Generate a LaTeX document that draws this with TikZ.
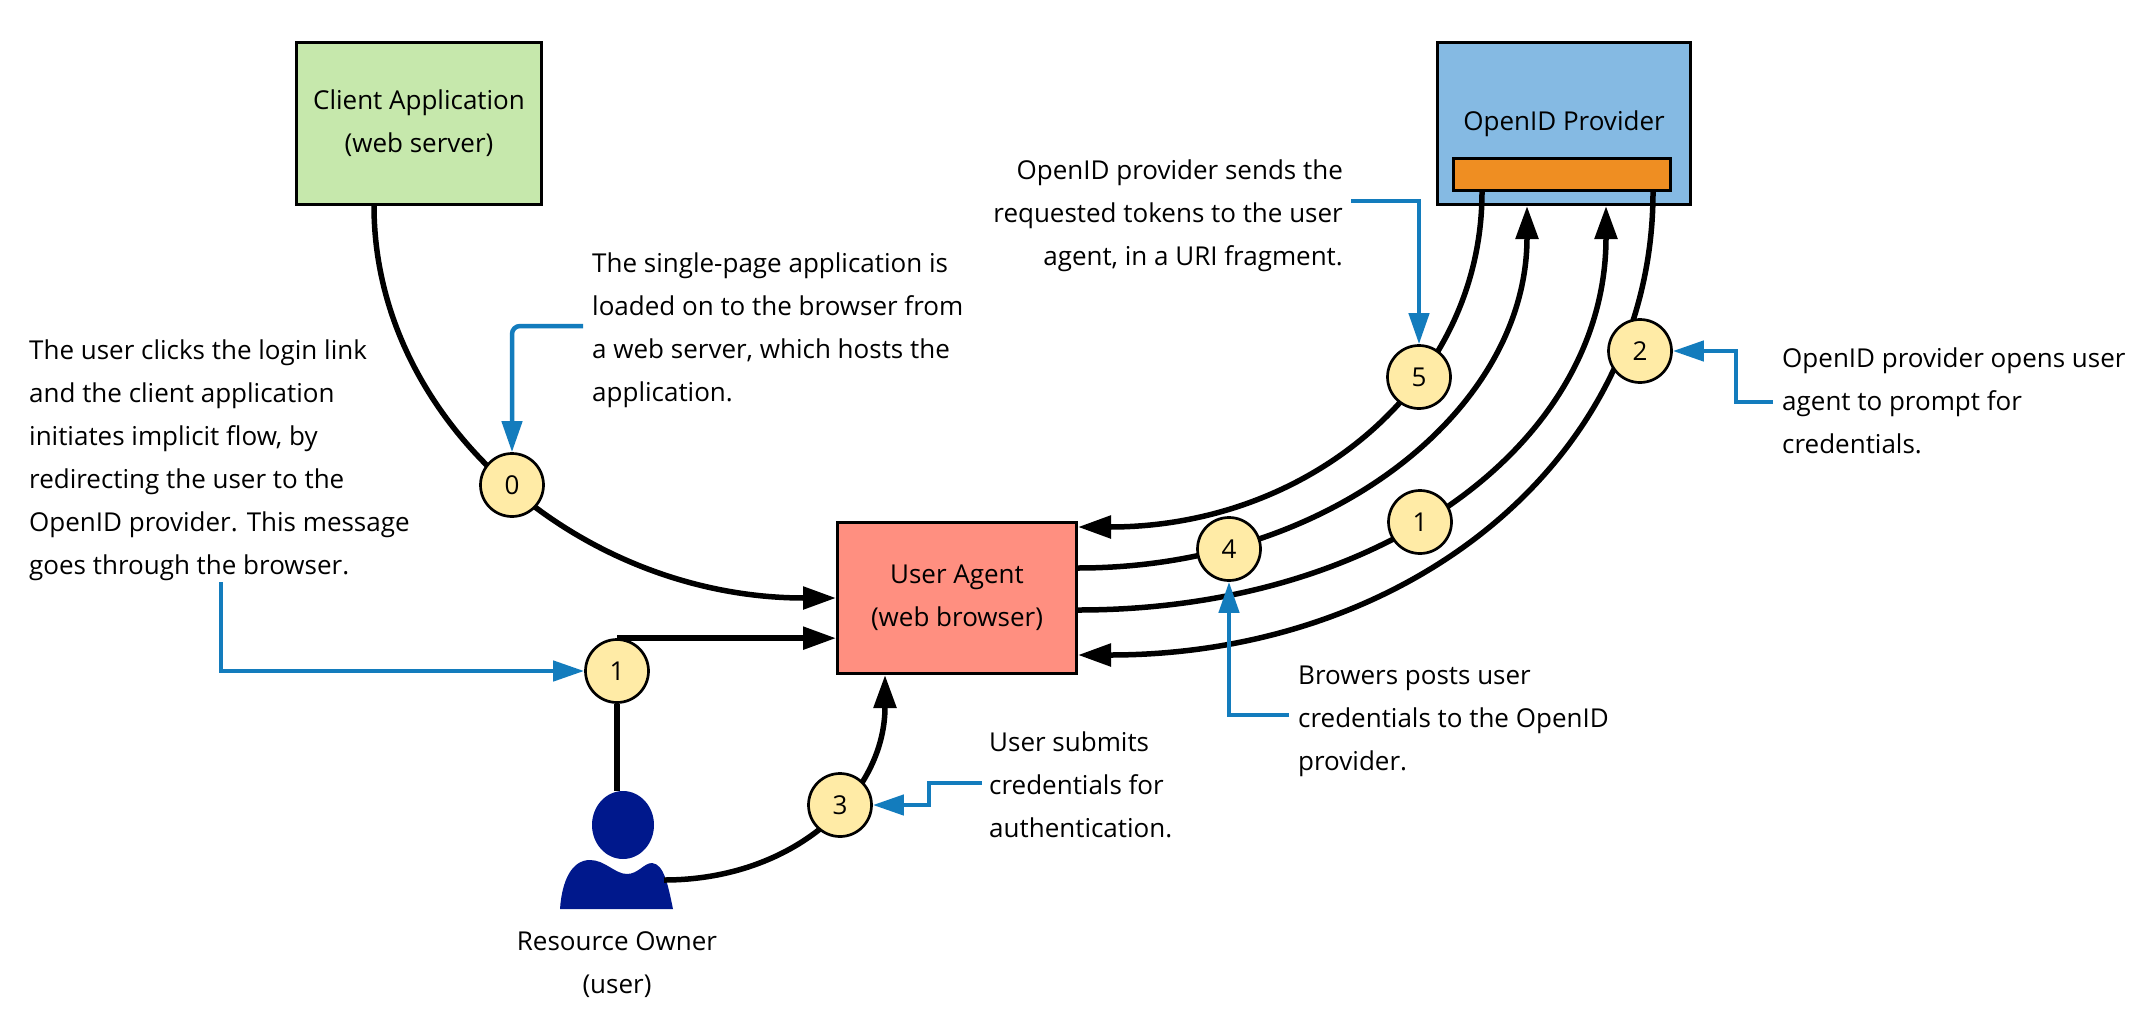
\documentclass[tikz,border=0pt]{standalone}
\usepackage{fontspec}
\setmainfont{Open Sans}
\usetikzlibrary{arrows.meta,shapes.geometric,calc}
\definecolor{cgreen}{HTML}{C6E8AC}
\definecolor{cbluebox}{HTML}{85BAE3}
\definecolor{corange}{HTML}{EF8E22}
\definecolor{csalmon}{HTML}{FF8F80}
\definecolor{cyellow}{HTML}{FFEBA6}
\definecolor{ccall}{HTML}{137CBD}
\definecolor{cnavy}{HTML}{00188C}
\begin{document}
\begin{tikzpicture}[x=1pt,y=-1pt,
  every node/.style={font=\fontsize{26}{43}\selectfont},
  box/.style={draw, line width=3pt, inner sep=0pt},
  numc/.style={circle, draw, line width=2.7pt, fill=cyellow, minimum size=63pt, inner sep=0pt},
  flow/.style={line width=5.5pt},
  tip/.style={-{Triangle[length=33pt,width=22pt]}},
  callout/.style={draw=ccall, line width=4.5pt, -{Triangle[length=31pt,width=20pt]}},
  note/.style={inner sep=0pt, align=left, anchor=north west}
]
\useasboundingbox (0,0) rectangle (2144,1020);
\fill[white] (0,0) rectangle (2144,1020);

% boxes
\node[box, fill=cgreen, minimum width=245pt, minimum height=162pt, align=center] (client) at (419,123.5) {Client Application\\(web server)};
\node[box, fill=csalmon, minimum width=239pt, minimum height=151pt, align=center] (ua) at (957,598) {User Agent\\(web browser)};
\node[box, fill=cbluebox, minimum width=253pt, minimum height=162pt] (op) at (1564,123.5) {OpenID Provider};
\node[box, fill=corange, minimum width=217pt, minimum height=32pt] (bar) at (1562,174.5) {};

% person
\node[ellipse, fill=cnavy, minimum width=62pt, minimum height=68pt, inner sep=0pt] (head) at (623,825) {};
\fill[cnavy] (560,909) .. controls (562,880) and (572,860) .. (590,860)
  .. controls (605,860) and (615,874) .. (627,874)
  .. controls (638,874) and (644,863) .. (652,863)
  .. controls (664,864) and (668,885) .. (673,909) -- cycle;
\coordinate (shoulder) at (664,880);
\node[anchor=north, align=center, inner sep=0pt] (plabel) at (617,931) {Resource Owner\\(user)};

% curved flows (circles drawn on top afterwards)
\draw[flow,tip] ($(client.south)+(-45,0)$) .. controls (374,421.6) and (581,598) .. (ua.west);
\draw[flow,tip] (shoulder) .. controls (793.4,880) and (885,795.2) .. ($(ua.south west)+(49,0)$);
\draw[flow,tip] ($(bar.south)+(-80,0)$) .. controls (1482,383) and (1310,527) .. ($(ua.north east)+(0,6)$);
\draw[flow,tip] ($(ua.north east)+(0,47)$) .. controls (1329.4,568) and (1527,409.6) .. ($(op.south)+(-37,0)$);
\draw[flow,tip] ($(ua.north east)+(0,89)$) .. controls (1384.2,610) and (1606,441.2) .. ($(op.south)+(42,0)$);
\draw[flow,tip] ($(bar.south)+(91,0)$) .. controls (1653,458.2) and (1410.3,655) .. ($(ua.north east)+(0,134)$);

% step circles
\node[numc] (c0) at (512,485) {0};
\node[numc] (c1) at (617,671) {1};
\node[numc] (c3) at (840,805) {3};
\node[numc] (c4) at (1229,549) {4};
\node[numc] (c1r) at (1420,522) {1};
\node[numc] (c5) at (1419,377) {5};
\node[numc] (c2) at (1640,351) {2};

\draw[flow] (c1.south) -- (c1.south |- head.north);
\draw[flow,tip] (c1.north) -- (c1.north -| ua.west);

% notes
\node[note] (tL) at (29,340) {The user clicks the login link\\and the client application\\initiates implicit flow, by\\redirecting the user to the\\OpenID provider. This message\\goes through the browser.};
\node[note] (t0) at (592,253) {The single-page application is\\loaded on to the browser from\\a web server, which hosts the\\application.};
\node[note, anchor=north east, align=right] (t5) at (1343,160) {OpenID provider sends the\\requested tokens to the user\\agent, in a URI fragment.};
\node[note] (t2) at (1782,348) {OpenID provider opens user\\agent to prompt for\\credentials.};
\node[note] (t3) at (989,732) {User submits\\credentials for\\authentication.};
\node[note] (t4) at (1298,666) {Browers posts user\\credentials to the OpenID\\provider.};

% callouts
\coordinate (k0) at (583,326);
\coordinate (kL) at (221,582);
\coordinate (k5) at (1351,201);
\coordinate (k2) at (1773,402);
\coordinate (k4) at (1289,715);
\coordinate (k3) at (982,783);
\draw[callout, rounded corners=8pt] (k0) -| (c0);
\draw[callout] (kL) |- (c1);
\draw[callout] (k5) -| (c5);
\draw[callout] (k2) -- ++(-37,0) |- (c2);
\draw[callout] (k4) -| (c4);
\draw[callout] (k3) -- ++(-53,0) |- (c3);
\end{tikzpicture}
\end{document}
